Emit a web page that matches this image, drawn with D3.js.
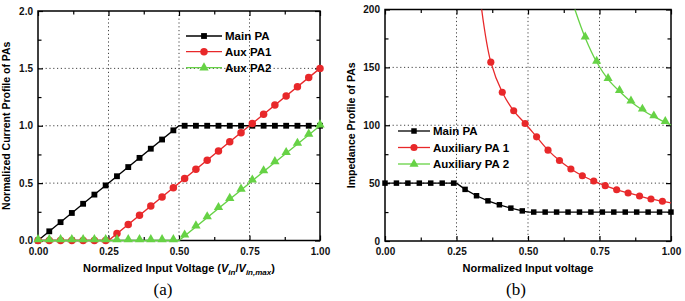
<!DOCTYPE html>
<html>
<head>
<meta charset="utf-8">
<script src="https://cdn.jsdelivr.net/npm/d3@7/dist/d3.min.js"></script>
<style>
  body { margin:0; background:#fff; }
  text { font-family: "Liberation Sans", Arial, sans-serif; }
  text.caption { font-family: "Liberation Serif", "Times New Roman", serif; }
</style>
</head>
<body>
<svg width="685" height="301"></svg>
<script>

// ---- panel (a): normalized current profile ----
var vinA = [0,0.04,0.08,0.12,0.16,0.20,0.24,0.28,0.32,0.36,0.40,0.44,0.48,
            0.52,0.56,0.60,0.64,0.68,0.72,0.76,0.80,0.84,0.88,0.92,0.96,1.00];
var mainA = [0,0.08,0.16,0.24,0.32,0.40,0.48,0.56,0.64,0.72,0.80,0.88,0.96,
             1,1,1,1,1,1,1,1,1,1,1,1,1];
var aux1A = [0,0,0,0,0,0,0,0.06,0.14,0.22,0.30,0.38,0.46,
             0.54,0.62,0.70,0.78,0.86,0.94,1.02,1.10,1.18,1.26,1.34,1.42,1.50];
var aux2A = [0,0,0,0,0,0,0,0,0,0,0,0,0,
             0.04,0.12,0.20,0.28,0.36,0.44,0.52,0.60,0.68,0.76,0.84,0.92,1.00];
// corner points of the piecewise lines
var mainLineXA = [0,0.5,1], mainLineYA = [0,1,1];
var aux1LineXA = [0,0.25,1], aux1LineYA = [0,0,1.5];
var aux2LineXA = [0,0.5,1], aux2LineYA = [0,0,1];

// ---- panel (b): impedance profile ----
var vinB = vinA;
var mainB = [50,50,50,50,50,50,50,44.6,39.1,34.7,31.3,28.4,26.0,
             25,25,25,25,25,25,25,25,25,25,25,25,25];
var mainLineXB = [0,0.25,0.28,0.32,0.36,0.40,0.44,0.48,0.5,1];
var mainLineYB = [50,50,44.6,39.1,34.7,31.3,28.4,26.0,25,25];
var aux1XB = [0.37,0.41,0.45,0.49,0.53,0.57,0.61,0.65,0.69,0.73,0.77,0.81,0.85,0.89,0.93,0.97];
var aux1B  = [154.5,128.5,112.5,101.5,90,78.5,69.5,62.2,56.4,51.8,47.8,44.3,41.5,38.9,36.3,34.3];
var aux1LineXB = [0.338].concat(aux1XB, [1.0]);
var aux1LineYB = [200].concat(aux1B, [32.9]);
var aux2XB = [0.70,0.74,0.78,0.82,0.86,0.90,0.94,0.98];
var aux2B  = [175.6,154.6,139.7,129.3,120.3,113.2,107.4,102.5];
var aux2LineXB = [0.664].concat(aux2XB, [1.0]);
var aux2LineYB = [200].concat(aux2B, [100.2]);

var xTicks = [0,0.25,0.5,0.75,1];
var xMinor = [0.125,0.375,0.625,0.875];
var yTicksA = [0,0.5,1,1.5,2], yMinorA = [0.25,0.75,1.25,1.75];
var yTicksB = [0,50,100,150,200], yMinorB = [25,75,125,175];

var black = "#000", red = "#e8282a", green = "#66d245";

var svg = d3.select("svg");

var zip = function(xs, ys) { return xs.map(function(x,i){ return [x, ys[i]]; }); };

var drawPanel = function(p)
{
  var x = d3.scaleLinear().domain([0,1]).range([p.left,p.right]);
  var y = d3.scaleLinear().domain(p.yDomain).range([p.bottom,p.top]);
  var g = svg.append("g");

  // dotted grid
  g.selectAll(".gx").data(xTicks.slice(1,-1)).enter().append("line")
    .attr("x1",function(d){return x(d);}).attr("x2",function(d){return x(d);})
    .attr("y1",p.top).attr("y2",p.bottom)
    .attr("stroke","#444").attr("stroke-dasharray","1.2,2.6");
  g.selectAll(".gy").data(p.yTicks.slice(1,-1)).enter().append("line")
    .attr("y1",function(d){return y(d);}).attr("y2",function(d){return y(d);})
    .attr("x1",p.left).attr("x2",p.right)
    .attr("stroke","#444").attr("stroke-dasharray","1.2,2.6");

  // axes with inward ticks on all four sides
  var axes = [
    [d3.axisBottom(x).tickValues(xTicks).tickFormat(d3.format(".2f")), "translate(0,"+p.bottom+")", 7],
    [d3.axisTop(x).tickValues(xTicks).tickFormat(""), "translate(0,"+p.top+")", 4],
    [d3.axisLeft(y).tickValues(p.yTicks).tickFormat(p.yFormat), "translate("+p.left+",0)", 5],
    [d3.axisRight(y).tickValues(p.yTicks).tickFormat(""), "translate("+p.right+",0)", 4]
  ];
  axes.forEach(function(a) {
    var ax = g.append("g").attr("transform",a[1])
      .call(a[0].tickSizeInner(-5).tickSizeOuter(0).tickPadding(a[2]));
    ax.select(".domain").remove();
    ax.selectAll("line").attr("stroke","#000").attr("stroke-width",1.2);
    ax.selectAll("text").attr("font-size","10px").attr("font-weight","bold").attr("fill","#111");
  });
  var minors = [
    [d3.axisBottom(x).tickValues(xMinor), "translate(0,"+p.bottom+")"],
    [d3.axisTop(x).tickValues(xMinor), "translate(0,"+p.top+")"],
    [d3.axisLeft(y).tickValues(p.yMinor), "translate("+p.left+",0)"],
    [d3.axisRight(y).tickValues(p.yMinor), "translate("+p.right+",0)"]
  ];
  minors.forEach(function(a) {
    var ax = g.append("g").attr("transform",a[1])
      .call(a[0].tickFormat("").tickSizeInner(-3.5).tickSizeOuter(0));
    ax.select(".domain").remove();
    ax.selectAll("line").attr("stroke","#000").attr("stroke-width",1.2);
  });

  g.append("rect").attr("x",p.left).attr("y",p.top)
    .attr("width",p.right-p.left).attr("height",p.bottom-p.top)
    .attr("fill","none").attr("stroke","#000").attr("stroke-width",1.5);

  // series
  var line = d3.line().x(function(d){return x(d[0]);}).y(function(d){return y(d[1]);});
  p.series.forEach(function(s) {
    g.append("path").datum(s.line)
      .attr("d", line.curve(s.smooth ? d3.curveCatmullRom.alpha(0.5) : d3.curveLinear))
      .attr("fill","none").attr("stroke",s.color).attr("stroke-width",1.3);
    var sym = d3.symbol().type(s.shape).size(s.size);
    g.selectAll(null).data(s.points).enter().append("path")
      .attr("d",sym)
      .attr("transform",function(d){return "translate("+x(d[0])+","+y(d[1])+")"+(s.shape===d3.symbolTriangle?" translate(0,-1)":"");})
      .attr("fill",s.color);
  });

  // legend
  p.series.forEach(function(s,i) {
    var ly = p.legY[i];
    g.append("line").attr("x1",p.legX[0]).attr("x2",p.legX[1]).attr("y1",ly).attr("y2",ly)
      .attr("stroke",s.color).attr("stroke-width",1.3);
    g.append("path").attr("d",d3.symbol().type(s.shape).size(s.size)())
      .attr("transform","translate("+((p.legX[0]+p.legX[1])/2)+","+ly+")").attr("fill",s.color);
    g.append("text").attr("x",p.legX[1]+3).attr("y",ly+4)
      .attr("font-size","11.5px").attr("font-weight","bold").text(s.name);
  });

  // titles
  g.append("text").attr("transform","translate("+p.yTitleX+","+((p.top+p.bottom)/2)+") rotate(-90)")
    .attr("text-anchor","middle").attr("font-size","10.5px").attr("font-weight","bold")
    .text(p.yTitle);
  var xt = g.append("text").attr("x",(p.left+p.right)/2).attr("y",272)
    .attr("text-anchor","middle").attr("font-size","11px").attr("font-weight","bold");
  p.xTitle(xt);
  g.append("text").attr("class","caption").attr("x",(p.left+p.right)/2 + p.capDx).attr("y",295)
    .attr("text-anchor","middle").attr("font-size","17px").text(p.caption);
};

drawPanel({
  left:38, right:320, top:11, bottom:240.5,
  yDomain:[0,2], yTicks:yTicksA, yMinor:yMinorA, yFormat:d3.format(".1f"),
  legX:[186,222], legY:[36,51.7,67.7],
  yTitleX:10, yTitle:"Normalized Current Profile of PAs",
  caption:"(a)", capDx:-16,
  xTitle:function(t) {
    t.append("tspan").text("Normalized Input Voltage (");
    t.append("tspan").attr("font-style","italic").text("V");
    t.append("tspan").attr("font-style","italic").attr("font-size","8px").attr("dy",3).text("in");
    t.append("tspan").attr("dy",-3).text("/");
    t.append("tspan").attr("font-style","italic").text("V");
    t.append("tspan").attr("font-style","italic").attr("font-size","8px").attr("dy",3).text("in,max");
    t.append("tspan").attr("dy",-3).text(")");
  },
  series:[
    {name:"Main PA", color:black, shape:d3.symbolSquare, size:34, line:zip(mainLineXA,mainLineYA), points:zip(vinA,mainA)},
    {name:"Aux PA1", color:red, shape:d3.symbolCircle, size:44, line:zip(aux1LineXA,aux1LineYA), points:zip(vinA,aux1A)},
    {name:"Aux PA2", color:green, shape:d3.symbolTriangle, size:38, line:zip(aux2LineXA,aux2LineYA), points:zip(vinA,aux2A)}
  ]
});

drawPanel({
  left:385, right:671, top:9.5, bottom:241,
  yDomain:[0,200], yTicks:yTicksB, yMinor:yMinorB, yFormat:d3.format("d"),
  legX:[398,430], legY:[131,147.5,164],
  yTitleX:355, yTitle:"Impedance Profile of PAs",
  caption:"(b)", capDx:-12,
  xTitle:function(t) { t.text("Normalized Input voltage"); },
  series:[
    {name:"Main PA", color:black, shape:d3.symbolSquare, size:30, line:zip(mainLineXB,mainLineYB), points:zip(vinB,mainB)},
    {name:"Auxiliary PA 1", color:red, shape:d3.symbolCircle, size:40, smooth:true, line:zip(aux1LineXB,aux1LineYB), points:zip(aux1XB,aux1B)},
    {name:"Auxiliary PA 2", color:green, shape:d3.symbolTriangle, size:36, smooth:true, line:zip(aux2LineXB,aux2LineYB), points:zip(aux2XB,aux2B)}
  ]
});

</script>
</body>
</html>
